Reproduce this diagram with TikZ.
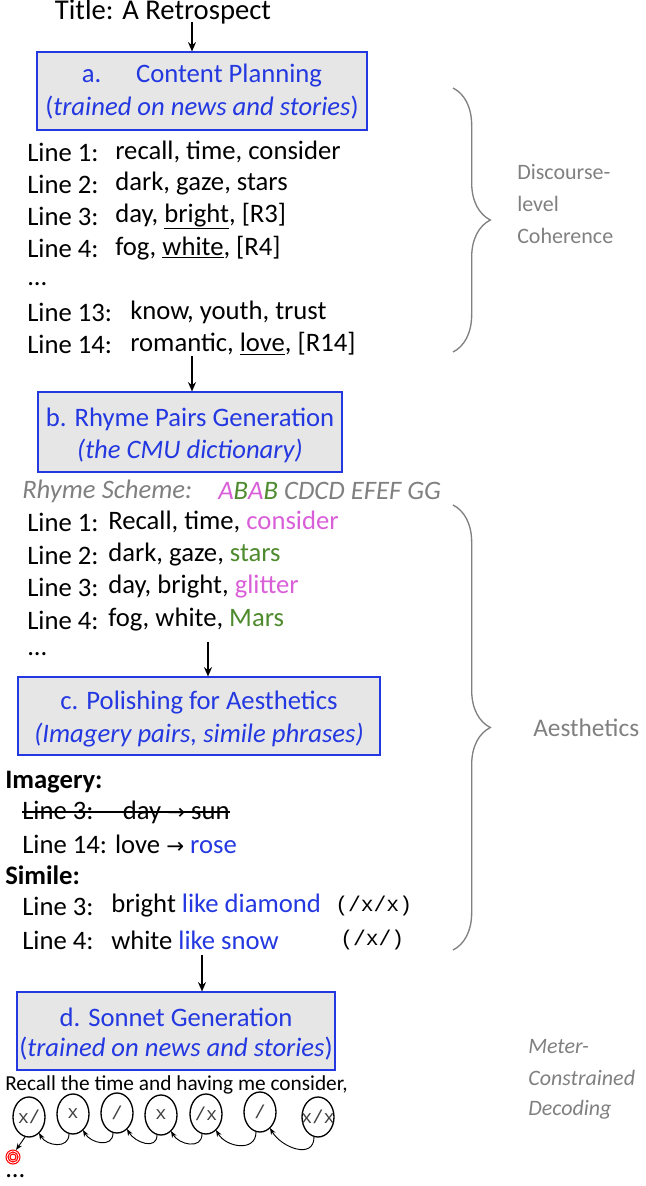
\documentclass[tikz,border=0pt]{standalone}
\usepackage{fontspec}
\setmainfont{Carlito}
\setmonofont{Liberation Mono}
\usetikzlibrary{decorations.pathreplacing,arrows.meta}
\definecolor{bl}{HTML}{2338E0}
\definecolor{mg}{HTML}{D95FD9}
\definecolor{gr}{HTML}{4E8A2E}
\definecolor{gy}{HTML}{808080}
\definecolor{bx}{HTML}{E6E6E6}
\newcommand{\rarr}{{\fontspec{DejaVu Sans}\fontsize{16}{18}\selectfont →}}
\begin{document}
\begin{tikzpicture}[x=0.75pt,y=-0.75pt,font=\fontsize{20}{24}\selectfont,
 txt/.style={anchor=west,inner sep=0pt},
 stage/.style={draw=bl,fill=bx,text=bl,align=center,inner sep=0pt,line width=0.8pt},
 arr/.style={-{Stealth[length=7pt,width=6pt]},line width=1.5pt},
 br/.style={draw=gy,line width=1pt,decorate,decoration={brace,amplitude=28pt,aspect=0.5}},
 side/.style={text=gy,align=left,anchor=west,inner sep=0pt,font=\fontsize{16.5}{20}\selectfont},
 mono/.style={font=\fontsize{16}{18}\ttfamily}]
\useasboundingbox (0,0) rectangle (646,1186);
\node[inner sep=0pt,font=\fontsize{21.5}{24}\selectfont] (title) at (163,12) {Title: A Retrospect};
\node[stage,minimum width=330*0.75pt,minimum height=78*0.75pt] (a) at (202,91) {};
\node[text=bl,inner sep=0pt] at (202,76) {a.\hspace{1.3em}Content Planning};
\node[text=bl,inner sep=0pt] at (202,108) {(\textit{trained on news and stories})};
\coordinate (t1) at (192,22);
\draw[arr] (t1) -- (t1 |- a.north);
\foreach \y/\l/\w in {152/Line 1:/{recall, time, consider},184/Line 2:/{dark, gaze, stars},216/Line 3:/{day, \underline{bright}, [R3]},248/Line 4:/{fog, \underline{white}, [R4]}}{
 \node[txt] at (27,\y) {\l}; \node[txt] at (115,\y) {\w};}
\node[txt] at (27,284) {...};
\node[txt] at (27,312) {Line 13:}; \node[txt] at (130,312) {know, youth, trust};
\node[txt] at (27,344) {Line 14:}; \node[txt] (l14) at (130,344) {romantic, \underline{love}, [R14]};
\node[stage,minimum width=304*0.75pt,minimum height=80*0.75pt] (b) at (190,432) {};
\node[text=bl,inner sep=0pt] at (190,419) {b. Rhyme Pairs Generation};
\node[text=bl,inner sep=0pt] at (190,451) {\textit{(the CMU dictionary)}};
\coordinate (ab) at (192,356);
\draw[arr] (ab) -- (ab |- b.north);
\node[txt,text=gy] at (22,491) {\textit{Rhyme Scheme:}};
\node[txt,text=gy] at (218,491) {\textit{\textcolor{mg}{A}\textcolor{gr}{B}\textcolor{mg}{A}\textcolor{gr}{B} CDCD EFEF GG}};
\foreach \y/\l/\w in {522/Line 1:/{Recall, time, \textcolor{mg}{consider}},555/Line 2:/{dark, gaze, \textcolor{gr}{stars}},587/Line 3:/{day, bright, \textcolor{mg}{glitter}},620/Line 4:/{fog, white, \textcolor{gr}{Mars}}}{
 \node[txt] at (27,\y) {\l}; \node[txt] at (108,\y) {\w};}
\node[txt] at (27,654) {...};
\node[stage,minimum width=362*0.75pt,minimum height=78*0.75pt] (c) at (199,716) {};
\node[text=bl,inner sep=0pt] at (199,703) {c. Polishing for Aesthetics};
\node[text=bl,inner sep=0pt] at (199,735) {\textit{(Imagery pairs, simile phrases)}};
\coordinate (bc) at (208,642);
\draw[arr] (bc) -- (bc |- c.north);
\node[txt] at (5,782) {\textbf{Imagery:}};
\node[txt] (st) at (22,812) {Line 3:\hspace{1.1em}day \rarr{} sun};
\draw[line width=0.8pt] (st.west) -- (st.east);
\node[txt] at (22,844) {Line 14: love \rarr{} \textcolor{bl}{rose}};
\node[txt] at (5,875) {\textbf{Simile:}};
\node[txt] at (22,906) {Line 3:}; \node[txt] at (111,906) {bright \textcolor{bl}{like diamond}};
\node[txt] at (22,940) {Line 4:}; \node[txt] at (111,940) {white \textcolor{bl}{like snow}};
\node[txt,mono] at (335,906) {(/x/x)};
\node[txt,mono] at (340,940) {(/x/)};
\node[stage,minimum width=318*0.75pt,minimum height=78*0.75pt] (d) at (176,1031) {};
\node[text=bl,inner sep=0pt] at (176,1017) {d. Sonnet Generation};
\node[text=bl,inner sep=0pt] at (176,1049) {(\textit{trained on news and stories})};
\coordinate (cd) at (202,955);
\draw[arr] (cd) -- (cd |- d.north);
\node[txt,font=\fontsize{16}{20}\selectfont] at (5,1085) {Recall the time and having me consider,};
\foreach \n/\x/\y/\t in {m1/29/1117/{x/},m2/73/1114/x,m3/117/1113/{/},m4/161/1115/x,m5/206/1114/{/x},m6/260/1112/{/},m7/318/1117/{x/x}}{
 \draw[line width=1pt] (\x,\y) ellipse [x radius=16, y radius=20];
 \node[inner sep=0pt,font=\fontsize{14}{15}\ttfamily,text=black!75] (\n) at (\x,\y) {\t};
 \coordinate (\n s) at (\x-4,\y+20);
 \coordinate (\n r) at (\x+10,\y+16);}
\foreach \r in {3,5,7}{\draw[red,line width=0.8pt] (13,1157) circle[radius=\r];}
\coordinate (tg) at (16,1150);
\draw[-{Stealth[length=5pt]},line width=0.7pt] (m1s) -- (tg);
\foreach \a/\b in {m2/m1,m3/m2,m4/m3,m5/m4,m6/m5,m7/m6}{
 \draw[-{Stealth[length=5pt]},line width=0.7pt] (\a s) to[out=-90,in=-60,looseness=1.3] (\b r);}
\node[txt] at (5,1176) {...};
\draw[br] (453,88) -- (453,352);
\node[side] at (517,172) {Discourse-};
\node[side] at (517,204) {level};
\node[side] at (517,236) {Coherence};
\draw[br] (453,505) -- (453,950);
\node[side,font=\fontsize{19}{22}\selectfont] at (533,728) {Aesthetics};
\node[side] at (528,1047) {\textit{Meter-}};
\node[side] at (528,1078) {\textit{Constrained}};
\node[side] at (528,1110) {\textit{Decoding}};
\end{tikzpicture}
\end{document}
